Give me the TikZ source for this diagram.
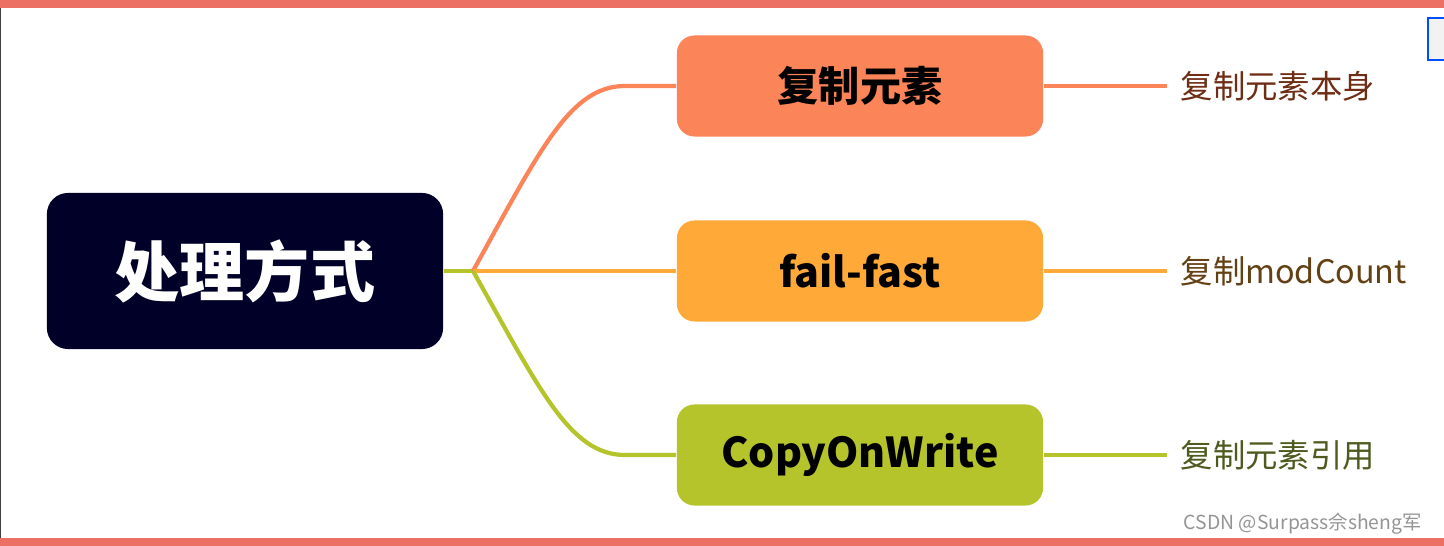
\documentclass[tikz,border=0pt]{standalone}
\usepackage{fontspec}
\setmainfont{Noto Sans CJK SC}
\usepackage{tikz}
\usetikzlibrary{positioning, calc}
\definecolor{barcolor}{RGB}{236,112,99}
\definecolor{rootcolor}{RGB}{0,0,40}
\definecolor{branchcolor1}{RGB}{252,132,89}
\definecolor{branchcolor2}{RGB}{255,170,56}
\definecolor{branchcolor3}{RGB}{181,196,43}
\definecolor{leafcolor1}{RGB}{110,45,20}
\definecolor{leafcolor2}{RGB}{100,65,20}
\definecolor{leafcolor3}{RGB}{78,90,30}

\begin{document}
\begin{tikzpicture}[
    x=0.01cm, y=-0.01cm,
    root/.style={fill=rootcolor, text=white, minimum width=3.96cm, minimum height=1.56cm, rounded corners=6pt, font=\fontsize{18.5}{20}\selectfont\bfseries},
    topic/.style={minimum width=3.66cm, minimum height=1.01cm, rounded corners=5pt, font=\fontsize{11.7}{13}\selectfont\bfseries},
    leaf/.style={anchor=west, inner xsep=0.13cm, font=\fontsize{9.2}{10}\selectfont},
    link/.style={line width=1.2pt}
]
    \useasboundingbox (0,0) rectangle (1444,546);
    % Frame
    \fill[white] (0,0) rectangle (1444,546);
    \fill[barcolor] (0,0) rectangle (1444,8);
    \fill[barcolor] (0,538) rectangle (1444,546);
    \draw[black!75, line width=0.4pt] (0.5,8) -- (0.5,538);
    \filldraw[fill=black!5, draw=blue!70!cyan, line width=0.6pt] (1428,18) rectangle (1450,60);

    % Root
    \node[root] (root) at (245,271) {处理方式};
    \coordinate (fork) at (473,271);

    % Topics
    \node[topic, fill=branchcolor1] (copy) at (860,86) {复制元素};
    \node[topic, fill=branchcolor2] (fail) at (860,271) {fail-fast};
    \node[topic, fill=branchcolor3] (cow) at (860,455) {CopyOnWrite};

    % Leaves
    \node[leaf, text=leafcolor1] (leafcopy) at (1167,86) {复制元素本身};
    \node[leaf, text=leafcolor2] (leaffail) at (1167,271) {复制modCount};
    \node[leaf, text=leafcolor3] (leafcow) at (1167,455) {复制元素引用};

    % Links
    \draw[link, branchcolor3] (root.east |- fork) -- (fork);
    \draw[link, branchcolor1] (fork) .. controls (540,150) and (570,86) .. (625,86) -- (copy.west);
    \draw[link, branchcolor2] (fork) -- (fail.west);
    \draw[link, branchcolor3] (fork) .. controls (540,390) and (570,455) .. (625,455) -- (cow.west);
    \draw[link, branchcolor1] (copy.east) -- (leafcopy.west);
    \draw[link, branchcolor2] (fail.east) -- (leaffail.west);
    \draw[link, branchcolor3] (cow.east) -- (leafcow.west);

    % Watermark
    \node[anchor=east, text=black!42, font=\fontsize{5.5}{6}\selectfont] (mark) at (1434,524) {CSDN @Surpass佘sheng军};
\end{tikzpicture}
\end{document}
